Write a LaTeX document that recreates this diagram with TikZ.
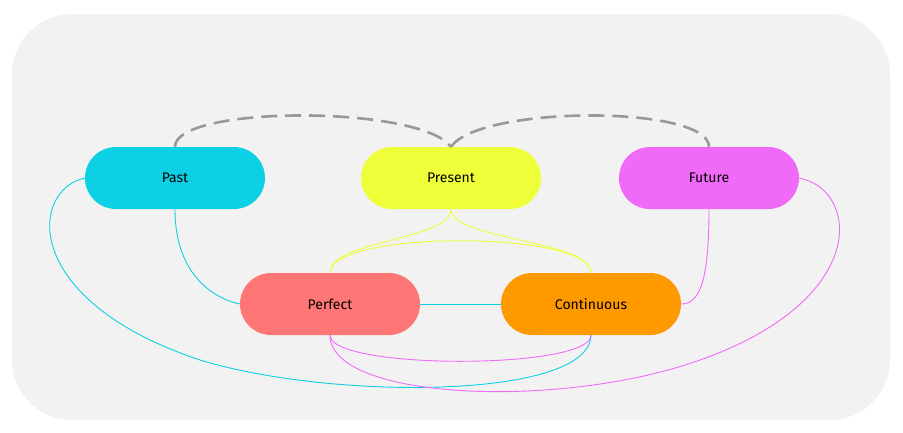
\documentclass[tikz,border=0pt]{standalone}
\usepackage{fontspec}
\setmainfont{Fira Sans}
\begin{document}
\begin{tikzpicture}[x=1pt,y=-1pt,
  pill/.style={rounded corners=31pt,minimum width=180pt,minimum height=62pt,inner sep=0pt,font=\fontsize{14}{16}\selectfont,text=black},
  dashc/.style={draw={rgb,255:red,153;green,153;blue,153},line width=2.6pt,dash pattern=on 16pt off 8pt},
  thin/.style={line width=0.9pt}]
\definecolor{cpast}{HTML}{0ED0E4}
\definecolor{cpres}{HTML}{EEFF3A}
\definecolor{cfut}{HTML}{F06AF8}
\definecolor{cperf}{HTML}{FF7676}
\definecolor{ccont}{HTML}{FF9900}
\useasboundingbox (0,0) rectangle (903,432);
\fill[fill={rgb,255:red,242;green,242;blue,242},rounded corners=60pt] (12,14) rectangle (890,420);
\node[pill,fill=cpast] (past) at (175,178) {Past};
\node[pill,fill=cpres] (pres) at (451,178) {Present};
\node[pill,fill=cfut] (fut) at (709,178) {Future};
\node[pill,fill=cperf] (perf) at (330,304) {Perfect};
\node[pill,fill=ccont] (cont) at (591,304) {Continuous};
\draw[dashc] (past.north) .. controls (175,105) and (420,105) .. (pres.north);
\draw[dashc] (pres.north) .. controls (480,105) and (709,105) .. (fut.north);
\draw[thin,cpast] (past.west) .. controls (30,190) and (20,300) .. (200,360) .. controls (330,400) and (590,400) .. (cont.south);
\draw[thin,cpast] (past.south) .. controls (175,280) and (220,300) .. (perf.west);
\draw[thin,cpast] (perf.east) -- (cont.west);
\draw[thin,cpres] (pres.south) .. controls (451,240) and (330,240) .. (perf.north);
\draw[thin,cpres] (pres.south) .. controls (451,240) and (591,240) .. (cont.north);
\draw[thin,cpres] (perf.north) .. controls (330,230) and (591,230) .. (cont.north);
\draw[thin,cfut] (fut.south) .. controls (709,280) and (700,304) .. (cont.east);
\draw[thin,cfut] (fut.east) .. controls (860,190) and (870,300) .. (700,360) .. controls (560,410) and (330,400) .. (perf.south);
\draw[thin,cfut] (perf.south) .. controls (330,370) and (591,370) .. (cont.south);
\end{tikzpicture}
\end{document}
